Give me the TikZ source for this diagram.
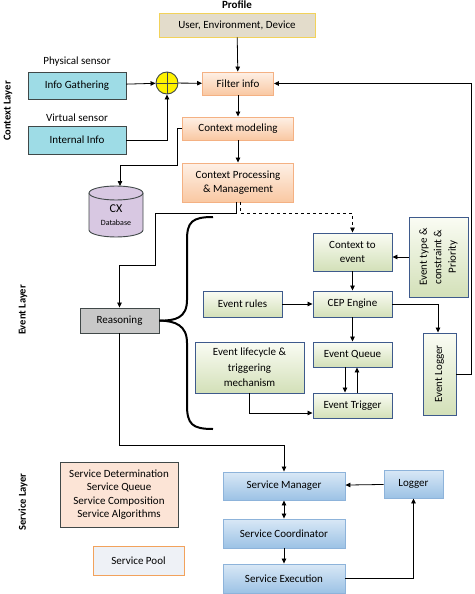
\documentclass[tikz,border=0pt]{standalone}
\usepackage{fontspec}
\setmainfont{Carlito}
\usetikzlibrary{arrows, arrows.meta}
\definecolor{tanfill}{HTML}{E3DCCB}
\definecolor{tanline}{HTML}{F2D25A}
\definecolor{peachtop}{HTML}{FEF0E6}
\definecolor{peachbot}{HTML}{F9C8A2}
\definecolor{peachline}{HTML}{F4B183}
\definecolor{cyanfill}{HTML}{9EDCE6}
\definecolor{darkline}{HTML}{404848}
\definecolor{lilac}{HTML}{D8C8E2}
\definecolor{greentop}{HTML}{FAFCF4}
\definecolor{greenbot}{HTML}{D3E0B8}
\definecolor{greenline}{HTML}{3E5A8C}
\definecolor{greyfill}{HTML}{C8C8C8}
\definecolor{bluetop}{HTML}{D9E8F6}
\definecolor{bluebot}{HTML}{9CC2E5}
\definecolor{blueline}{HTML}{8DB3DA}
\definecolor{servfill}{HTML}{FCE4D6}
\definecolor{poolfill}{HTML}{EEF1F6}
\definecolor{poolline}{HTML}{F2A25C}

\begin{document}
\begin{tikzpicture}[x=1pt, y=-1pt, font=\fontsize{11}{14.5}\selectfont]
\tikzstyle{every node}+=[inner sep=0pt, align=center]
\tikzstyle{box}=[rectangle, line width=0.9pt]
\tikzstyle{peach}=[box, draw=peachline, top color=peachtop, bottom color=peachbot]
\tikzstyle{sensor}=[box, draw=darkline, fill=cyanfill]
\tikzstyle{green}=[box, draw=greenline, top color=greentop, bottom color=greenbot]
\tikzstyle{blue}=[box, draw=blueline, top color=bluetop, bottom color=bluebot]
\tikzstyle{layer}=[rotate=90, font=\fontsize{10.5}{12}\selectfont\bfseries]
\tikzstyle{flow}=[line width=0.8pt, -{Triangle[length=5pt,width=4.5pt]}]
\useasboundingbox (0,0) rectangle (474,594);

\node[layer] (ctxlayer) at (8,111) {Context Layer};
\node[layer] (evtlayer) at (23,310) {Event Layer};
\node[layer] (srvlayer) at (23,502) {Service Layer};

\node[font=\fontsize{11}{12}\selectfont\bfseries] (proflabel) at (237,5) {Profile};
\node[box, draw=tanline, fill=tanfill, minimum width=156, minimum height=24] (profile) at (237,25) {User, Environment, Device};
\node[peach, minimum width=71, minimum height=23] (filter) at (238,83.5) {Filter info};
\node[peach, minimum width=111, minimum height=23] (ctxmod) at (238,128.5) {Context modeling};
\node[peach, minimum width=111, minimum height=39] (ctxproc) at (238,182.5) {Context Processing\\\& Management};

\node (physlabel) at (77,62) {Physical sensor};
\node[sensor, minimum width=98, minimum height=27] (gather) at (77,85.5) {Info Gathering};
\node (virtlabel) at (77,118) {Virtual sensor};
\node[sensor, minimum width=98, minimum height=28] (internal) at (77,140) {Internal Info};
\node[circle, draw=darkline, fill=yellow, line width=0.9pt, minimum size=22] (sum) at (167,83) {};
\draw[line width=0.9pt, darkline] (sum.north) -- (sum.south) (sum.west) -- (sum.east);

% database drum
\filldraw[draw=darkline, fill=lilac, line width=0.9pt] (89,193) -- (89,230) arc[start angle=180, end angle=0, x radius=27, y radius=7] -- (143,193);
\filldraw[draw=darkline, fill=lilac, line width=0.9pt] (116,193) ellipse[x radius=27, y radius=7];
\coordinate (db) at (116,186);
\node (dbtext) at (116,215) {\fontsize{12}{13}\selectfont CX\\[-1pt]{\fontsize{8}{9}\selectfont Database}};

\node[green, minimum width=79, minimum height=38] (ctxevt) at (352.5,252) {Context to\\event};
\node[green, rotate=90, minimum width=80, minimum height=59] (evtype) at (438.5,257) {Event type \&\\constraint \&\\Priority};
\node[green, minimum width=79, minimum height=26] (rules) at (242.5,304) {Event rules};
\node[green, minimum width=79, minimum height=26] (cep) at (352.5,304) {CEP Engine};
\node[green, minimum width=109, minimum height=51, font=\fontsize{11}{15.5}\selectfont] (lifecycle) at (249.5,367.5) {Event lifecycle \&\\triggering\\mechanism};
\node[green, minimum width=79, minimum height=25] (queue) at (352.5,354.5) {Event Queue};
\node[green, minimum width=79, minimum height=25] (trigger) at (352.5,405.5) {Event Trigger};
\node[green, rotate=90, minimum width=82, minimum height=33] (evlog) at (439.5,374) {Event Logger};
\node[box, draw=darkline, fill=greyfill, minimum width=79, minimum height=25] (reason) at (119.5,320.5) {Reasoning};

\node[box, draw=darkline, fill=servfill, minimum width=118, minimum height=65, font=\fontsize{11}{13.3}\selectfont] (servlist) at (119,494.5) {Service Determination\\Service Queue\\Service Composition\\Service Algorithms};
\node[box, draw=poolline, fill=poolfill, minimum width=91, minimum height=29] (pool) at (138.5,560.5) {Service Pool};
\node[blue, minimum width=122, minimum height=28] (manager) at (284,486) {Service Manager};
\node[blue, minimum width=122, minimum height=29] (coord) at (284,533.5) {Service Coordinator};
\node[blue, minimum width=122, minimum height=29] (exec) at (284,578.5) {Service Execution};
\node[blue, minimum width=59, minimum height=28] (logger) at (413.5,484) {Logger};

\coordinate (bus) at (0,213);
\coordinate (drop) at (0,265);

\draw[flow] (profile) -- (filter);
\draw[flow] (gather) -- (sum);
\draw[flow] (internal.east) -| (sum.south);
\draw[flow] (sum) -- (filter);
\draw[flow] (filter) -- (ctxmod);
\draw[flow] (ctxmod) -- (ctxproc);
\draw[flow] (ctxmod.west) -- ++(-5,0) -- ++(0,36.5) -| ([xshift=4pt]db);
\draw[flow] ([xshift=-2pt]ctxproc.south) |- (155,213) |- (reason.north |- drop) -- (reason.north);
\draw[flow, dashed] ([xshift=2pt]ctxproc.south) |- (ctxevt.north |- bus) -- (ctxevt.north);
\draw[flow] (evtype.north) -- (ctxevt.east |- evtype.north);
\draw[flow] (ctxevt) -- (cep);
\draw[flow] (rules) -- (cep);
\draw[flow] (cep) -- (queue);
\draw[flow] ([xshift=-7.5pt]queue.south) -- ([xshift=-7.5pt]trigger.north);
\draw[flow] ([xshift=4.5pt]trigger.north) -- ([xshift=4.5pt]queue.south);
\draw[flow] (lifecycle.south) |- ([yshift=-7.5pt]trigger.west);
\draw[flow] (cep.east) -| ([xshift=-1.5pt]evlog.east);
\draw[flow] (evlog.south) -- ++(15,0) |- (filter.east);
\draw[flow] (reason.south) -- ++(0,112) -| (manager.north);
\draw[flow, {Triangle[length=5pt,width=4.5pt]}-{Triangle[length=5pt,width=4.5pt]}] (manager) -- (coord);
\draw[flow] (coord) -- (exec);
\draw[flow] (logger) -- (manager);
\draw[flow] (exec.east) -| (logger.south);

\draw[line width=2pt] (reason.east) .. controls (175,321) and (187,318) .. (187,300) -- (187,240)
  .. controls (187,222) and (192,217) .. (213,217);
\draw[line width=2pt] (reason.east) .. controls (175,321) and (187,325) .. (187,343) -- (187,405)
  .. controls (187,424) and (192,429) .. (213,429);
\end{tikzpicture}
\end{document}
